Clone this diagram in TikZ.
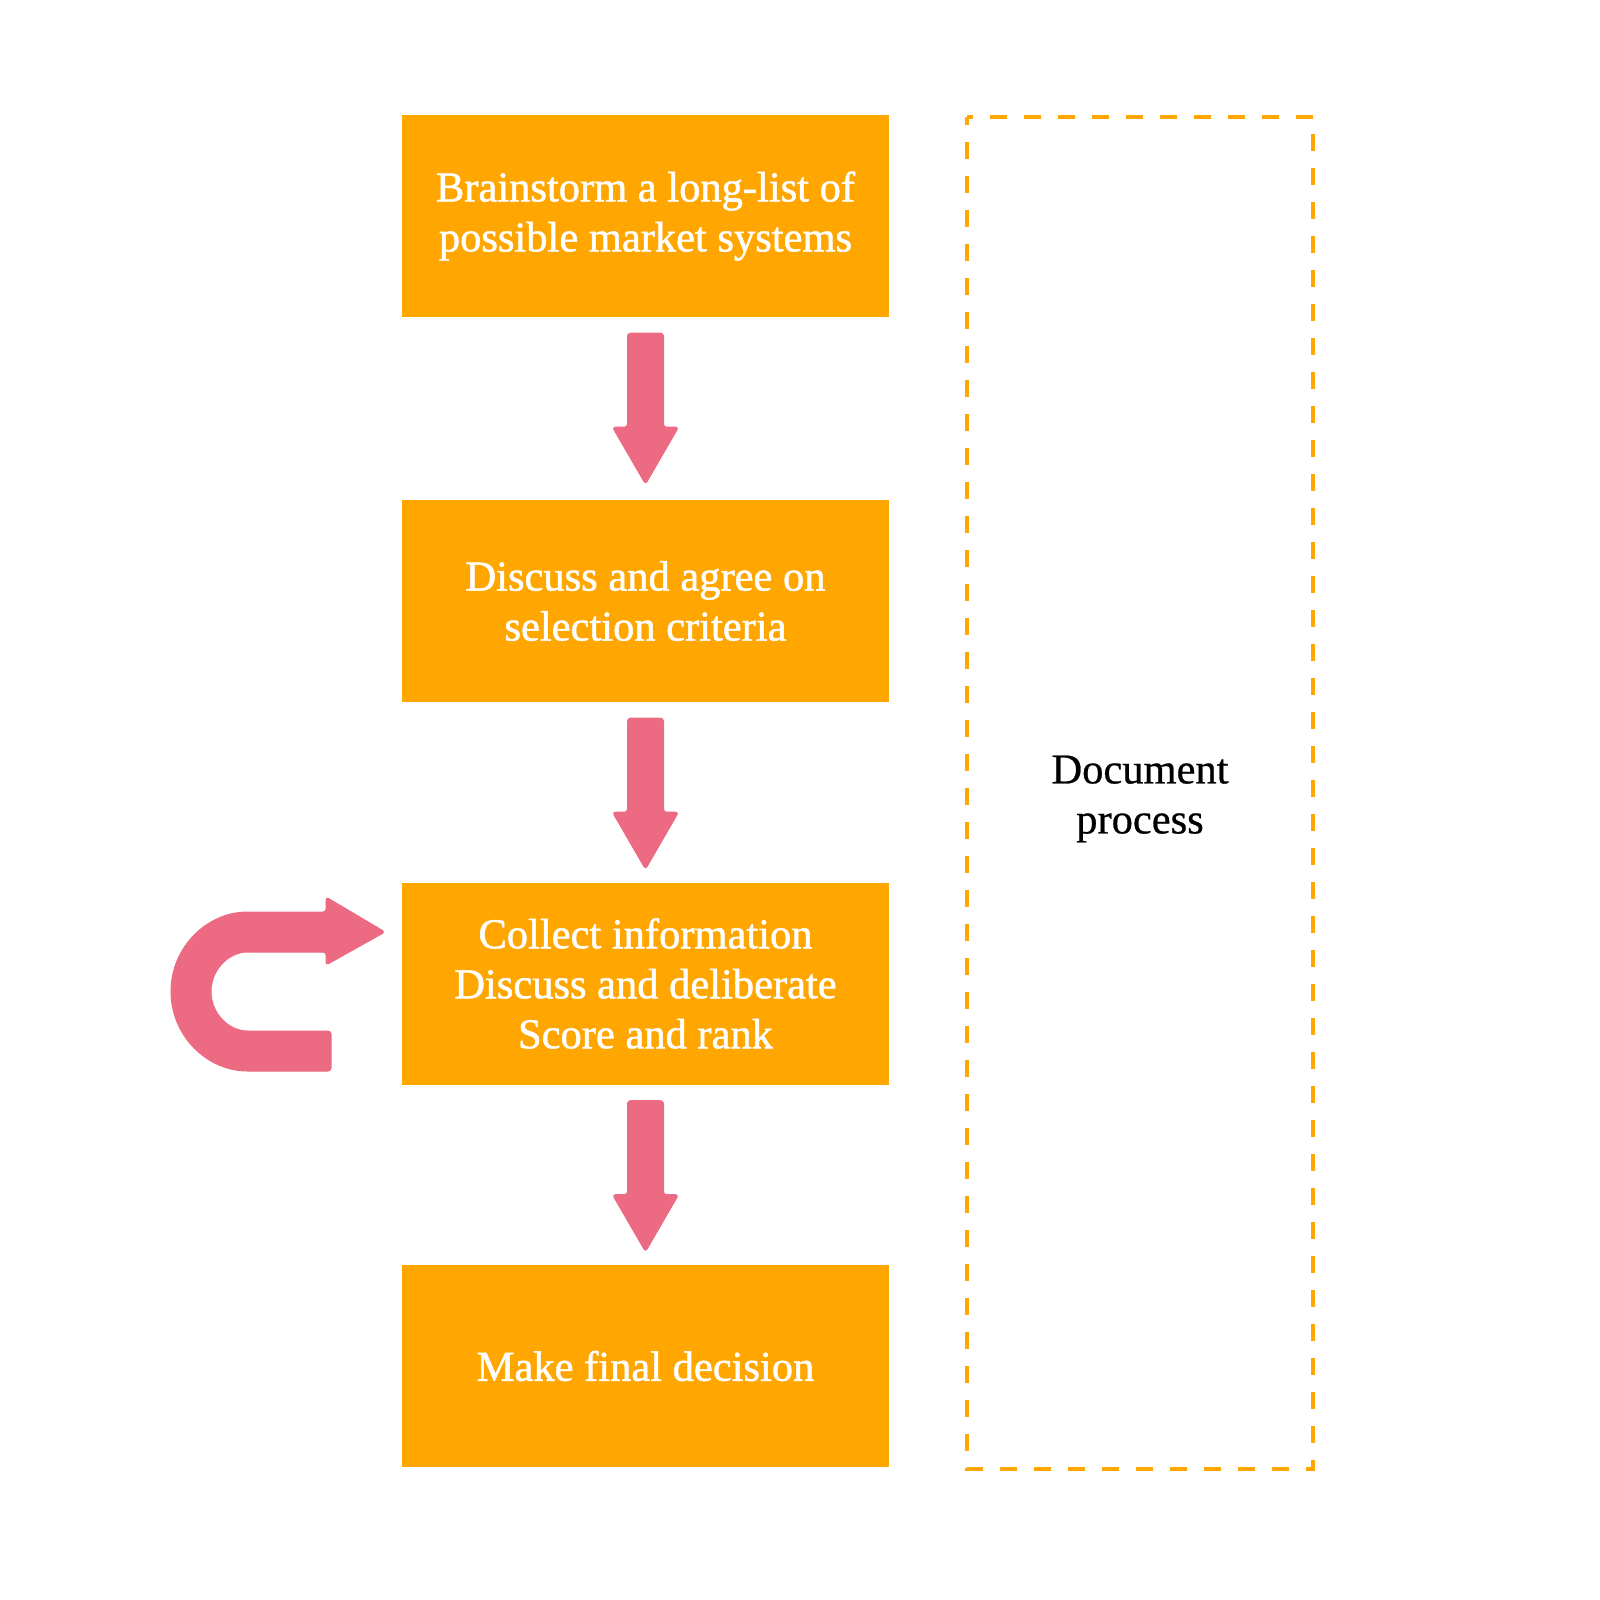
\documentclass[tikz,border=0pt]{standalone}
\usepackage{fontspec}
\setmainfont{Liberation Serif}
\newfontfamily\boxfont{Liberation Serif}[FakeBold=1.2]
\newfontfamily\docfont{Liberation Serif}[FakeBold=0.6]
\usetikzlibrary{calc}
\definecolor{boxorange}{RGB}{255,166,0}
\definecolor{arrowpink}{RGB}{236,107,130}
\tikzset{
  stepbox/.style={fill=boxorange, draw=none, minimum width=487pt, minimum height=202pt,
    inner sep=0pt, text=white, align=center, font=\boxfont\fontsize{42.5}{50}\selectfont},
  doclabel/.style={text=black, align=center, font=\docfont\fontsize{42.5}{50}\selectfont},
  fatarrow/.style={fill=arrowpink, draw=arrowpink, line width=1pt, rounded corners=3pt, line join=round},
  dashframe/.style={draw=boxorange, line width=4.5pt, dash pattern=on 17pt off 17pt, dash phase=8.5pt},
  pics/downarrow/.style={code={
    \path[fatarrow] (-18,0) -- (18,0) -- (18,94) -- (33,94) -- (0,151) -- (-33,94) -- (-18,94) -- cycle;
  }}
}
\begin{document}
\begin{tikzpicture}[x=1pt,y=-1pt]
\useasboundingbox (0,0) rectangle (1600,1600);
\node[stepbox] (b1) at (645.5,216) {Brainstorm a long-list of\\possible market systems};
\node[stepbox] (b2) at (645.5,601) {Discuss and agree on\\selection criteria};
\node[stepbox] (b3) at (645.5,983.5) {Collect information\\Discuss and deliberate\\Score and rank};
\node[stepbox] (b4) at (645.5,1366) {Make final decision};
\node[minimum width=346pt, minimum height=1352pt, inner sep=0pt] (frame) at (1140,793) {};
\path[dashframe] (frame.north west) rectangle (frame.south east);
\node[doclabel] (doc) at ($(frame.center)+(0,6)$) {Document\\process};
\pic at ($(b1.south)+(0,16)$) {downarrow};
\pic at ($(b2.south)+(0,16)$) {downarrow};
\pic at ($(b3.south)+(0,16)$) {downarrow};
\coordinate (uc) at (250.5,991.5);
\path[fatarrow] (326,912) -- (250.5,912)
  arc[start angle=270, end angle=90, radius=79.5]
  -- (331,1071) -- (331,1031) -- (250.5,1031)
  arc[start angle=90, end angle=270, radius=39.5]
  -- (326,952) -- (326,965) -- (385,932) -- (326,897) -- cycle;
\end{tikzpicture}
\end{document}
